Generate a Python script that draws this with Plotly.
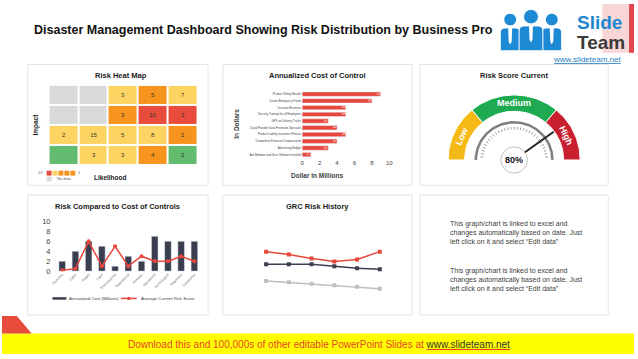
import numpy as np
import plotly.graph_objects as go

W, H = 638, 359
def PX(x): return x / W
def PY(y): return 1 - y / H

FONT = "Arial, Liberation Sans, sans-serif"

# ---------------- data ----------------
heat_likelihood = ["Rare", "Unlikely", "Possible", "Likely", "Certain"]
heat_impact = ["Severe", "Major", "Moderate", "Minor"]          # top -> bottom
heat_counts = [[None, None, 3, 5, 7],
               [None, None, 3, 10, 3],
               [2, 15, 5, 8, 2],
               [None, 3, 3, 4, 2]]
heat_level = [[0, 0, 2, 3, 2],
              [0, 0, 3, 4, 4],
              [2, 2, 2, 2, 3],
              [1, 2, 2, 3, 1]]
level_colors = ["#D9D9D9", "#62BB6E", "#FDD361", "#F7941E", "#E94B3C"]

control_names = ["Product Safety Recalls", "Create Emergency Funds", "Increase Reserves",
                 "Security Training for all Employees", "GPS on Delivery Trucks",
                 "Cloud Provider Data Protection Specialist", "Product Liability Insurance Policies",
                 "Competitive Financial Compensation", "Advertising Budget",
                 "Anti Malware and Virus Software Installed"]
control_cost = [9, 8, 5, 5, 3, 4, 5, 4, 3, 1]

gauge_bands = ["Low", "Medium", "High"]
gauge_limits = [0, 28, 72, 100]
gauge_colors = ["#F5B915", "#1DAA50", "#C8202E"]
gauge_value = 80

risk_categories = ["Economic", "Cyber", "Supply", "Legal", "Environmental", "Reputational",
                   "Strategic", "Operational", "Technological", "Regulatory", "Compliance"]
annual_cost = [2, 4, 6, 5, 1, 3, 2, 7, 6, 6, 6]
avg_risk = [0.2, 0.5, 6, 1, 5, 1, 3, 2, 2, 3, 2]
combo_series = ["Annualized Cost (Millions)", "Average Current Risk Score"]

grc_periods = ["Q1", "Q2", "Q3", "Q4", "Q5", "Q6"]
grc_high = [3.9, 3.6, 3.2, 2.9, 3.1, 3.9]
grc_medium = [2.6, 2.6, 2.6, 2.4, 2.2, 2.1]
grc_low = [0.9, 0.75, 0.6, 0.45, 0.3, 0.1]

note_text = ("This graph/chart is linked to excel and<br>changes automatically based on date. Just"
             "<br>left click on it and select \u201cEdit data\u201d")

DARK, RED, GREY = "#3A3E4F", "#E8473B", "#BFBFBF"

# ---------------- figure ----------------
fig = go.Figure()

# Heat map
cs = []
n = len(level_colors)
for i, c in enumerate(level_colors):
    cs.append([i / n, c]); cs.append([(i + 1) / n, c])
fig.add_trace(go.Heatmap(
    z=heat_level, x=heat_likelihood, y=heat_impact,
    text=[[("" if v is None else str(v)) for v in row] for row in heat_counts],
    texttemplate="%{text}", textfont=dict(size=6, color="#333333", family=FONT),
    colorscale=cs, zmin=-0.5, zmax=n - 0.5, showscale=False, xgap=2, ygap=2,
    xaxis="x", yaxis="y", hoverinfo="skip"))

# Annualized cost bar
fig.add_trace(go.Bar(
    x=control_cost, y=control_names, orientation="h", marker_color=RED,
    text=[str(v) for v in control_cost], textposition="inside", insidetextanchor="end",
    textfont=dict(size=4, color="white", family=FONT), width=0.65,
    xaxis="x2", yaxis="y2", showlegend=False))

# Gauge
def ang(p): return np.pi * (1 - p / 100.0)
for i, name in enumerate(gauge_bands):
    t = np.linspace(ang(gauge_limits[i]), ang(gauge_limits[i + 1]), 40)
    xs = np.concatenate([np.cos(t), 0.75 * np.cos(t[::-1])])
    ys = np.concatenate([np.sin(t), 0.75 * np.sin(t[::-1])])
    fig.add_trace(go.Scatter(x=np.append(xs, xs[0]), y=np.append(ys, ys[0]), fill="toself",
                             fillcolor=gauge_colors[i], line=dict(color="white", width=1),
                             mode="lines", xaxis="x3", yaxis="y3", showlegend=False, hoverinfo="skip"))
t = np.linspace(0, np.pi, 80)
fig.add_trace(go.Scatter(x=0.58 * np.cos(t), y=0.58 * np.sin(t), mode="lines",
                         line=dict(color="#7F7F7F", width=2.5), xaxis="x3", yaxis="y3",
                         showlegend=False, hoverinfo="skip"))
tx, ty = [], []
for a in np.linspace(np.pi * 0.97, np.pi * 0.03, 31):
    tx += [0.47 * np.cos(a), 0.51 * np.cos(a), None]
    ty += [0.47 * np.sin(a), 0.51 * np.sin(a), None]
fig.add_trace(go.Scatter(x=tx, y=ty, mode="lines", line=dict(color="#9A9A9A", width=1),
                         xaxis="x3", yaxis="y3", showlegend=False, hoverinfo="skip"))
a = ang(gauge_value)
fig.add_trace(go.Scatter(x=[0, 0.74 * np.cos(a)], y=[0, 0.74 * np.sin(a)], mode="lines",
                         line=dict(color="#222222", width=2), xaxis="x3", yaxis="y3",
                         showlegend=False, hoverinfo="skip"))
t = np.linspace(0, 2 * np.pi, 60)
fig.add_trace(go.Scatter(x=0.2 * np.cos(t), y=0.2 * np.sin(t), mode="lines", fill="toself",
                         fillcolor="white", line=dict(color="#BFBFBF", width=1),
                         xaxis="x3", yaxis="y3", showlegend=False, hoverinfo="skip"))

# Combo chart
fig.add_trace(go.Bar(x=risk_categories, y=annual_cost, name=combo_series[0],
                     marker_color=DARK, xaxis="x4", yaxis="y4", width=0.5, showlegend=False))
fig.add_trace(go.Scatter(x=risk_categories, y=avg_risk, name=combo_series[1],
                         mode="lines+markers", line=dict(color=RED, width=1.5),
                         marker=dict(size=4, color=RED), xaxis="x4", yaxis="y4", showlegend=False))

# GRC risk history
for vals, col in [(grc_high, RED), (grc_medium, DARK), (grc_low, GREY)]:
    fig.add_trace(go.Scatter(x=grc_periods, y=vals, mode="lines+markers",
                             line=dict(color=col, width=1.5),
                             marker=dict(symbol="square", size=4, color=col),
                             xaxis="x5", yaxis="y5", showlegend=False))

hid = dict(showgrid=False, zeroline=False, showticklabels=False, showline=False, ticks="")

fig.update_layout(
    width=W, height=H, margin=dict(l=0, r=0, t=0, b=0),
    paper_bgcolor="white", plot_bgcolor="rgba(0,0,0,0)",
    font=dict(family=FONT, color="#333333"), showlegend=False,
    xaxis=dict(domain=[PX(47), PX(197)], **hid),
    yaxis=dict(domain=[PY(165), PY(83)], autorange="reversed", **hid),
    xaxis2=dict(domain=[PX(303), PX(391)], range=[0, 10], tickvals=[0, 2, 4, 6, 8, 10],
                showgrid=False, zeroline=False, tickfont=dict(size=6, color="#404040"), anchor="y2"),
    yaxis2=dict(domain=[PY(158), PY(89)], autorange="reversed", showgrid=False,
                tickfont=dict(size=2.8, color="#404040"), anchor="x2", ticklen=0, ticks=""),
    xaxis3=dict(domain=[PX(447), PX(587)], range=[-1.05, 1.05], anchor="y3", **hid),
    yaxis3=dict(domain=[PY(175), PY(85)], range=[-0.225, 1.125], anchor="x3", **hid),
    xaxis4=dict(domain=[PX(50), PX(205)], anchor="y4", showgrid=False, zeroline=False,
                tickangle=-45, tickfont=dict(size=3.2, color="#595959"), ticks=""),
    yaxis4=dict(domain=[PY(274), PY(223)], range=[0, 10], tickvals=[0, 2, 4, 6, 8, 10],
                anchor="x4", showgrid=False, zeroline=False, tickfont=dict(size=7.5, color="#404040")),
    xaxis5=dict(domain=[PX(262), PX(386)], range=[-0.2, 5.2], anchor="y5", **hid),
    yaxis5=dict(domain=[PY(300), PY(240)], range=[-0.7, 5.3], anchor="x5", **hid),
    bargap=0.5,
)

shapes = []
# cards
for (x0, y0, x1, y1) in [(26, 62, 208, 186), (223, 62, 414, 186), (422, 62, 612, 186),
                         (26, 196, 208, 319), (223, 196, 414, 319), (422, 196, 612, 319)]:
    shapes.append(dict(type="rect", xref="paper", yref="paper", x0=PX(x0), x1=PX(x1),
                       y0=PY(y1), y1=PY(y0), line=dict(color="#E4E4E4", width=1),
                       fillcolor="white", layer="below"))
# heat map legend
leg_cols = ["#E94B3C", "#FDD361", "#F7941E", "#F7941E", "#F7941E"]
for i, c in enumerate(leg_cols):
    shapes.append(dict(type="rect", xref="paper", yref="paper", x0=PX(45 + 6 * i), x1=PX(50 + 6 * i),
                       y0=PY(176), y1=PY(171), fillcolor=c, line=dict(width=0)))
shapes.append(dict(type="rect", xref="paper", yref="paper", x0=PX(45), x1=PX(50),
                   y0=PY(182), y1=PY(177), fillcolor="#D9D9D9", line=dict(width=0)))
# combo legend keys
shapes.append(dict(type="line", xref="paper", yref="paper", x0=PX(51), x1=PX(65), y0=PY(302), y1=PY(302),
                   line=dict(color=DARK, width=2.5)))
shapes.append(dict(type="line", xref="paper", yref="paper", x0=PX(120), x1=PX(136), y0=PY(302), y1=PY(302),
                   line=dict(color=RED, width=1.5)))
shapes.append(dict(type="circle", xref="paper", yref="paper", x0=PX(126.3), x1=PX(129.7), y0=PY(303.7), y1=PY(300.3),
                   fillcolor=RED, line=dict(width=0)))
# footer
shapes.append(dict(type="rect", xref="paper", yref="paper", x0=0, x1=1, y0=0, y1=PY(338),
                   fillcolor="#FFFF00", line=dict(width=0)))
shapes.append(dict(type="path", xref="paper", yref="paper",
                   path=f"M 0 {PY(320)} L {PX(15)} {PY(320)} L {PX(30)} {PY(338)} L 0 {PY(338)} Z",
                   fillcolor="#E84C3D", line=dict(width=0)))
# logo background
shapes.append(dict(type="rect", xref="paper", yref="paper", x0=PX(606), x1=1, y0=PY(50), y1=1,
                   fillcolor="#F9D6D6", line=dict(width=0), layer="below"))
shapes.append(dict(type="rect", xref="paper", yref="paper", x0=PX(633), x1=1, y0=PY(50), y1=1,
                   fillcolor="#E0474C", line=dict(width=0), layer="below"))
# logo people
blue = "#1E8AD6"
for cx, cy, r, bx0, bx1 in [(513, 16, 6.5, 503, 523), (555, 16, 6.5, 545, 565), (534, 13, 7.5, 522, 546)]:
    shapes.append(dict(type="circle", xref="paper", yref="paper", x0=PX(cx - r), x1=PX(cx + r),
                       y0=PY(cy + r), y1=PY(cy - r), fillcolor=blue, line=dict(color="white", width=1)))
    top = cy + r + 2
    shapes.append(dict(type="path", xref="paper", yref="paper",
                       path=(f"M {PX(bx0)} {PY(48)} L {PX(bx0)} {PY(top + 5)} Q {PX(bx0)} {PY(top)} {PX(bx0 + 5)} {PY(top)} "
                             f"L {PX(bx1 - 5)} {PY(top)} Q {PX(bx1)} {PY(top)} {PX(bx1)} {PY(top + 5)} L {PX(bx1)} {PY(48)} Z"),
                       fillcolor=blue, line=dict(color="white", width=1)))
    mx = (bx0 + bx1) / 2
    shapes.append(dict(type="path", xref="paper", yref="paper",
                       path=f"M {PX(mx - 2)} {PY(top)} L {PX(mx + 2)} {PY(top)} L {PX(mx + 1.5)} {PY(top + 14)} L {PX(mx)} {PY(top + 17)} L {PX(mx - 1.5)} {PY(top + 14)} Z",
                       fillcolor="white", line=dict(width=0)))
fig.update_layout(shapes=shapes)

ann = []
def A(x, y, text, size, color="#1a1a1a", bold=False, xanchor="center", **kw):
    ann.append(dict(xref="paper", yref="paper", x=PX(x), y=PY(y), text=(f"<b>{text}</b>" if bold else text),
                    showarrow=False, xanchor=xanchor, yanchor=kw.pop("yanchor", "middle"),
                    font=dict(size=size, color=color, family=FONT), **kw))

A(30, 27, "Disaster Management Dashboard Showing Risk Distribution by Business Pro", 12.5, "#111111", True, xanchor="left")
A(578, 19, "Slide", 19, "#1F86CF", True, xanchor="left")
A(578, 39, "Team", 19, "#3A3A3A", True, xanchor="left")
A(591, 57, "<u>www.slideteam.net</u>", 8, "#2A7FC6")
A(120, 73, "Risk Heat Map", 7.5, bold=True)
A(318, 73, "Annualized Cost of Control", 7.5, bold=True)
A(517, 73, "Risk Score Current", 7.5, bold=True)
A(117, 208, "Risk Compared to Cost of Controls", 7.5, bold=True)
A(318, 208, "GRC Risk History", 7.5, bold=True)
A(110, 178, "Likelihood", 6.5, bold=True)
A(34, 124, "Impact", 6.5, bold=True, textangle=-90)
A(39, 173, "13", 4, "#595959")
A(78, 173, "1", 4, "#595959")
A(53, 179, "No data", 4, "#595959", xanchor="left")
A(318, 176, "Dollar in Millions", 6.5, "#404040", True)
A(237, 123, "In Dollars", 6.5, "#404040", True, textangle=-90)
A(517, 160, "80%", 9, "#111111", True)
A(66, 302, combo_series[0], 4.3, "#404040", xanchor="left")
A(138, 302, combo_series[1], 4.3, "#404040", xanchor="left")
# gauge labels
for name, lo, hi in zip(gauge_bands, gauge_limits[:-1], gauge_limits[1:]):
    a = ang((lo + hi) / 2)
    gx, gy = 517 + 0.875 * 66.7 * np.cos(a), 160 - 0.875 * 66.7 * np.sin(a)
    rot = 90 - np.degrees(a)
    A(gx, gy, name, 9, "white", True, textangle=rot)
A(450, 219, note_text, 7, "#404040", xanchor="left", yanchor="top", align="left")
A(450, 268, note_text, 7, "#404040", xanchor="left", yanchor="top", align="left")
A(320, 349, "Download this and 100,000s of other editable PowerPoint Slides at "
             "<u><span style='color:#333333'>www.slideteam.net</span></u>", 10, "#E8432A")
fig.update_layout(annotations=ann)

fig.write_html("out.html", config={"displayModeBar": False},
               post_script="document.body.style.margin='0';document.body.style.overflow='hidden';")
